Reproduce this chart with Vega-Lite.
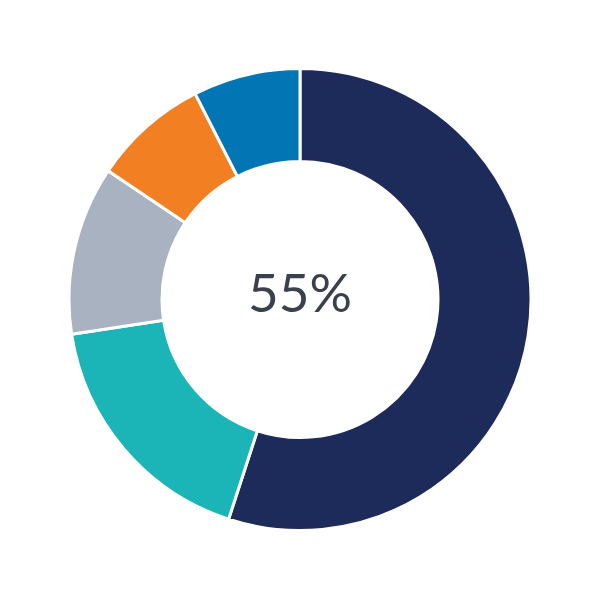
{
  "$schema": "https://vega.github.io/schema/vega-lite/v6.json",
  "width": 600,
  "height": 599,
  "autosize": {"type": "fit", "contains": "padding"},
  "padding": 0,
  "background": "white",
  "view": {"stroke": null},
  "layer": [
    {
      "data": {
        "values": [
          {"category": "A", "value": 55, "order": 1},
          {"category": "B", "value": 17.6, "order": 2},
          {"category": "C", "value": 11.8, "order": 3},
          {"category": "D", "value": 8.1, "order": 4},
          {"category": "E", "value": 7.5, "order": 5}
        ]
      },
      "mark": {"type": "arc", "outerRadius": 231, "innerRadius": 138, "stroke": "white", "strokeWidth": 3},
      "encoding": {
        "theta": {"field": "value", "type": "quantitative", "stack": true},
        "order": {"field": "order", "type": "quantitative"},
        "color": {
          "field": "category",
          "type": "nominal",
          "scale": {"domain": ["A", "B", "C", "D", "E"], "range": ["#1c2b5a", "#1bb5b8", "#a8b2c0", "#f27f21", "#0276b4"]},
          "legend": null
        }
      }
    },
    {
      "data": {"values": [{"label": "55%"}]},
      "mark": {"type": "text", "font": "Lato", "fontSize": 53, "fontWeight": 400, "color": "#3b414c", "baseline": "middle", "align": "center", "dy": -4},
      "encoding": {"text": {"field": "label", "type": "nominal"}}
    }
  ]
}
